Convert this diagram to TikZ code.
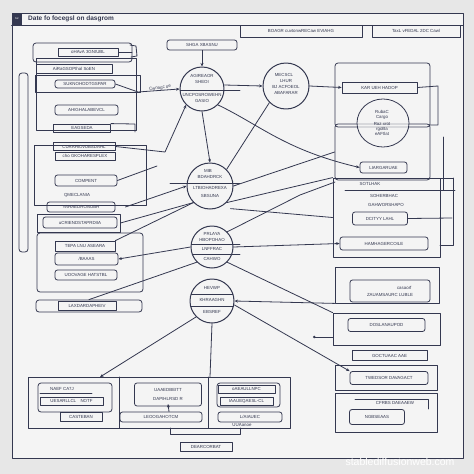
\documentclass[tikz,border=0pt]{standalone}
\usepackage{fontspec}
\setmainfont{Liberation Sans}
\usetikzlibrary{arrows.meta,shapes.geometric}
\definecolor{ink}{HTML}{343850}
\definecolor{paper}{HTML}{F4F4F4}
\definecolor{outside}{HTML}{E7E7E7}
\newcommand\tx{\fontsize{4.4}{5}\selectfont}
\begin{document}
\begin{tikzpicture}[x=1pt,y=-1pt,line join=round,line cap=round,
  ln/.style={draw=ink,line width=0.8pt},
  bx/.style={draw=ink,line width=0.8pt,inner sep=0pt,font=\tx,text=ink},
  rb/.style={bx,rounded corners=2.5pt},
  fr/.style={draw=ink,line width=0.8pt,inner sep=0pt},
  rfr/.style={fr,rounded corners=3pt},
  lb/.style={font=\tx,text=ink,inner sep=0pt},
  circ/.style={draw=ink,line width=1pt,circle,inner sep=0pt},
  ar/.style={ln,-{Stealth[length=3.5pt,width=3pt]}},
  cr/.style={ln,{Circle[length=2.5pt,open]}-}]
% background and frame
\fill[outside] (0,0) rectangle (474,474);
\useasboundingbox (0,0) rectangle (474,474);
\node[fr,fill=paper,minimum width=451,minimum height=445] (frame) at (237.5,235.5) {};
\node[fill=ink,minimum width=10,minimum height=12,inner sep=0pt,text=white,font=\fontsize{3}{3}\selectfont] (tag) at (17,19) {tw};
\node[lb,anchor=west,font=\fontsize{6.5}{7}\selectfont\bfseries] (title) at (28,19) {Date fo focegsl on dasgrom};
\draw[ln] (frame.north west |- 0,25) -- (frame.north east |- 0,25);
\node[bx,minimum width=122,minimum height=12] (hdrA) at (301,31) {BOAGR cuvtonwRECaw EVIAHG};
\node[bx,minimum width=88,minimum height=12] (hdrB) at (416,31) {TaxL vFEDAL 2DC Cawl};
% ---------------- left column ----------------
\node[rfr,minimum width=99,minimum height=19] (l1) at (82.5,52.5) {};
\node[bx,minimum width=60,minimum height=8] (l1in) at (88,52) {oHAvA 3GNtUBL};
\draw[ln] (l1in.east) -- (132,52);
\draw[ln] (130,45) -- (136,46) -- (137,56) -- (131,57);
\node[fr,minimum width=100,minimum height=72] (r1) at (86,94) {};
\node[bx,minimum width=76,minimum height=9] (l2) at (74,68.5) {AiRaGSOPthal SoEN};
\node[fr,minimum width=105,minimum height=17] (l3) at (87.5,83.5) {};
\node[rb,minimum width=60,minimum height=8] (l3in) at (85,84) {SUKNOHODTGSPAR};
\node[rfr,minimum width=9,minimum height=179] (narrow) at (23.5,162.5) {};
\node[rb,minimum width=63,minimum height=10] (l4) at (86.5,110) {AHIGHALABEVCL};
\node[bx,minimum width=57,minimum height=8] (l5) at (82,128) {EAGSEDA};
\draw[ln] (l5.north east) -- (135,124) -- (135,132);
\node[fr,minimum width=112,minimum height=60] (r2) at (90,175) {};
\node[bx,minimum width=62,minimum height=8] (l6) at (84,146.5) {CURAHIOvUBSDAHL};
\node[bx,minimum width=60,minimum height=8] (l7) at (85,156) {cho GKOHARESPLEX};
\node[rb,minimum width=62,minimum height=11] (l8) at (86,180.5) {COMPENT};
\node[lb] (l9) at (77,195) {QMECLANIA};
\node[rb,minimum width=68,minimum height=10] (l10) at (81,207) {YAHAEDRONUBH};
\node[fr,minimum width=83,minimum height=18] (l11) at (78.5,223) {};
\node[rb,minimum width=74,minimum height=11] (l11in) at (80,222.5) {uCRIENDSTAPRDIIA};
\node[rfr,minimum width=106,minimum height=59] (r3) at (90,262.5) {};
\node[bx,minimum width=60,minimum height=10] (l12) at (85,246) {TEPA LNU ASEARA};
\node[rb,minimum width=63,minimum height=12] (l13) at (86.5,259) {/BAAAS};
\node[rb,minimum width=62,minimum height=10] (l14) at (86,275) {UOOVAGE HATSTBL};
\node[rfr,minimum width=106,minimum height=12] (l15) at (89,306) {};
\node[bx,minimum width=58,minimum height=9] (l15in) at (87,305.5) {LAXDARDAPHEIV};
% ---------------- middle circles ----------------
\node[rb,minimum width=70,minimum height=10] (top) at (202,45) {SHGA XBASNU};
\node[circ,minimum size=44] (c1) at (202,89) {};
\node[lb] (c1a) at (202,76) {AGIREAOR};
\node[lb] (c1b) at (202,82) {SHEOI};
\node[lb] (c1c) at (202,95) {UNCPOSROWEHN};
\node[lb] (c1d) at (202,101) {GASIO};
\draw[ln] (180.2,90) -- (240,90);
\node[circ,minimum size=46] (c2) at (286,86) {};
\node[lb] (c2a) at (284,75) {MECSCL};
\node[lb] (c2b) at (286,81) {LHUR};
\node[lb] (c2c) at (286,87) {BJ ACFOEOL};
\node[lb] (c2d) at (286,93) {ABAFARAR};
\node[circ,minimum size=46] (c3) at (210,186) {};
\node[lb] (c3a) at (208,171) {MIB};
\node[lb] (c3b) at (210,177) {BDAHDRCK};
\node[lb] (c3c) at (210,188) {LTBIOHADREXA};
\node[lb] (c3d) at (210,196) {SBSUNA};
\draw[ln] (170,183) -- (240,183);
\node[circ,minimum size=42] (c4) at (212,247) {};
\node[lb] (c4a) at (212,234) {PRLAYA};
\node[lb] (c4b) at (212,239.5) {HBOPOHAO};
\node[lb] (c4c) at (212,249) {LNFFRAC};
\node[lb] (c4d) at (212,259) {CAHWO};
\draw[ln] (191.4,244) -- (240,244);
\draw[ln] (192.2,254) -- (240,254);
\node[circ,minimum size=44] (c5) at (212,301) {};
\node[lb] (c5a) at (212,288) {HEVWP};
\node[lb] (c5b) at (212,300) {KHRAAGHN};
\node[lb] (c5c) at (212,312) {EBSREF};
\draw[ln] (191.2,294) -- (232.8,294);
\draw[ln] (190.5,306) -- (233.5,306);
% ---------------- right column ----------------
\node[rfr,minimum width=95,minimum height=64] (rb1) at (382.5,95) {};
\node[bx,minimum width=75,minimum height=11] (kar) at (379.5,87.5) {KAR UEH HADOP};
\draw[ln] (kar.east) -- (438,86) -- (438,125) -- (430,125);
\node[rfr,minimum width=95,minimum height=56] (rb2) at (382.5,152) {};
\node[draw=ink,line width=0.8pt,ellipse,minimum width=52,minimum height=48,inner sep=0pt,fill=paper,fill opacity=0.6] (rell) at (383,123) {};
\node[lb,align=center] (rellt) at (382,123) {RubaC\\Cargo\\[2pt]Raz xrot\\rgoBa\\eAFtlat};
\node[rb,minimum width=47,minimum height=11] (liar) at (383.5,167.5) {LIARGARUAE};
\draw[ln] (443,137) -- (443,190);
\node[fr,minimum width=107,minimum height=79] (rb3) at (386.5,217.5) {};
\draw[ln] (353,178) -- (453,178);
\draw[ln] (345,190) -- (455,190);
\draw[ln] (453,178) -- (453,245) -- (440,245);
\node[lb] (sot) at (370,184) {SOTLHAK};
\node[lb] (soh) at (384,195.5) {SOHERBHAC};
\node[lb] (gah) at (386,204.5) {GAHWORSHAPO};
\node[rb,minimum width=55,minimum height=13] (dcit) at (380,218.5) {DCITYY LAHL};
\draw[ln] (dcit.east) -- (452,218);
\node[rb,minimum width=88,minimum height=13] (ham) at (384,243.5) {HAMHAGERCOILE};
\node[fr,minimum width=104,minimum height=36] (rb4) at (387,285) {};
\node[rb,minimum width=80,minimum height=22,align=left] (zau) at (390,291) {\hspace*{30pt}casaorf\\[2pt]ZAUAMSAURC LUBLE};
\node[fr,minimum width=107,minimum height=32] (rb5) at (386.5,329) {};
\node[rb,minimum width=77,minimum height=13] (dos) at (386.5,325) {DOSLANAUPOD};
\node[bx,minimum width=75,minimum height=10] (goc) at (389.5,355.5) {GOCTUAAC AAE};
\node[fr,minimum width=102,minimum height=25] (rb6) at (386,377.5) {};
\node[rb,minimum width=78,minimum height=13] (twe) at (389,378) {TWEDSOR DAVAGACT};
\node[fr,minimum width=102,minimum height=39] (rb7) at (386,412.5) {};
\node[lb] (cfr) at (395,402.5) {CFRBS DAEAAEW};
\draw[ln] (355,399) -- (428,399) -- (428,409);
\node[rb,minimum width=55,minimum height=15] (ngb) at (377,417) {NGBSEAAS};
% ---------------- bottom row ----------------
\node[fr,minimum width=262,minimum height=51] (bb) at (159,402.5) {};
\draw[ln] (119,377) -- (119,428);
\draw[ln] (208,377) -- (208,428);
\node[rfr,minimum width=74,minimum height=29] (b1) at (75,397.5) {};
\node[lb] (b1a) at (62,389) {NAEF CA7J};
\draw[ln] (40,393.5) -- (92,393.5);
\node[bx,minimum width=63,minimum height=8] (b1b) at (71.5,401) {UESARLLCL\quad NOTF};
\node[bx,minimum width=42,minimum height=9] (b1c) at (81,417) {CASTEBAN};
\node[rb,minimum width=67,minimum height=23,align=center] (b2) at (168,394.5) {UAAEDBEITT\\[4pt]DAPIHLRSD R};
\node[rb,minimum width=82,minimum height=10] (b2b) at (161,417) {LEOOGAHOTCM};
\draw[ar] (b2b.north) ++(8,0) -- (168,404);
\node[rfr,minimum width=63,minimum height=24] (b3) at (248.5,395) {};
\node[bx,minimum width=57,minimum height=8] (b3a) at (246.5,389) {oAEAULLNPC};
\node[bx,minimum width=53,minimum height=8] (b3b) at (246.5,401.5) {IAAUEQAESL-CL};
\node[rb,minimum width=64,minimum height=10] (b3c) at (250,417) {L/AIAUEC};
\node[lb] (b3d) at (242,425.5) {UUAanoe};
\draw[ln] (170,428) -- (170,434) -- (240,434) -- (240,428);
\node[bx,minimum width=52,minimum height=9] (dear) at (206,447) {DEARCORBAT};
% ---------------- connectors ----------------
\draw[ar] (top.south) -- (c1.north);
\draw[ar] (l3in.east) -- (138,92) -- (c1.west);
\node[lb,rotate=8] (cw) at (160,88) {Cwnagc oe};
\draw[ar] (c1.east) ++(0,-4) -- (c2.west);
\draw[ar] (c2.east) -- (kar.west);
\draw[ar] (c1.south) -- (c3.north);
\draw[ln] (c2.south west) -- (c3.north east);
\draw[ar] (l6.east) -- (165,152) -- (c1.south west);
\draw[ln] (l8.east) -- (157,166);
\draw[ar] (l10.east) ++(10,0) -- (c3.west);
\draw[ln] (l11.east) -- (c3.south west);
\draw[ar] (c1.south east) .. controls (260,125) and (285,150) .. (liar.west);
\draw[ln] (c3.east) -- (rb2.west);
\draw[ln] (c3.south east) -- (rb3.north west);
\draw[ln] (c3.south east) ++(4,6) -- (rb3.west);
\draw[ln] (c4.north east) -- (300,195) -- (335,182);
\draw[ar] (c4.east) -- (ham.west);
\draw[ln] (c4.south east) -- (rb5.north west);
\draw[ar] (rb4.south west) -- (c5.east);
\draw[ar] (c5.east) ++(0,4) -- (twe.north west);
\coordinate (dot) at (313,337);
\draw[cr] (dot) -- (rb5.west |- dot);
\draw[ln] (c5.south) -- (210,377);
\draw[ar] (c5.south west) -- (100,377);
\draw[ln] (l12.north east) -- (c3.south west);
\draw[ar] (c4.west) -- (l13.east);
\draw[ln] (c4.south west) -- (l15.north);
% watermark
\node[text=white,font=\fontsize{10.5}{11}\selectfont,inner sep=0pt] (wm) at (400,462) {stablediffusionweb.com};
\end{tikzpicture}
\end{document}
